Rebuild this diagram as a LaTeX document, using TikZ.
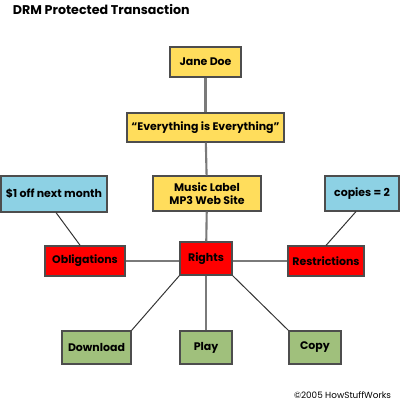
\documentclass[tikz,border=0pt]{standalone}
\usepackage{fontspec}
\setmainfont{Poppins}
\newcommand{\pxu}{0.025cm}
\definecolor{caja}{HTML}{FFDD5C}
\definecolor{celeste}{HTML}{8DD1E4}
\definecolor{rojo}{HTML}{FF0000}
\definecolor{verde}{HTML}{A0C07C}
\definecolor{borde}{HTML}{4D4D4D}
\definecolor{linea}{HTML}{7A7A7A}
\begin{document}
\begin{tikzpicture}[x=\pxu,y=-\pxu,
    box/.style={draw=borde,line width=0.8pt,inner sep=0pt,align=center,
                font=\fontsize{7.8}{9.5}\selectfont\bfseries},
    amarillo/.style={box,fill=caja},
    azul/.style={box,fill=celeste},
    roja/.style={box,fill=rojo},
    verdeb/.style={box,fill=verde},
    tronco/.style={linea,line width=1.5pt},
    rama/.style={black!80,line width=0.7pt}]
  \useasboundingbox (0,0) rectangle (400,403);

  % Titulo
  \node[anchor=west,font=\fontsize{9}{11}\selectfont\bfseries] (titulo) at (8,9.5) {DRM Protected Transaction};

  % Cajas
  \node[amarillo,minimum width=71*\pxu,minimum height=30*\pxu] (jane) at (205.5,62) {Jane Doe};
  \node[amarillo,minimum width=157*\pxu,minimum height=29*\pxu] (ever) at (205.5,127.5) {``Everything is Everything''};
  \node[amarillo,minimum width=108*\pxu,minimum height=35*\pxu] (music) at (207,193.5) {Music Label\\MP3 Web Site};
  \node[azul,minimum width=106*\pxu,minimum height=36*\pxu] (off) at (54,194) {\$1 off next month};
  \node[azul,minimum width=74*\pxu,minimum height=35*\pxu] (copies) at (362,193.5) {copies = 2};
  \node[roja,minimum width=80*\pxu,minimum height=30*\pxu] (oblig) at (85,261) {Obligations};
  \node[roja,minimum width=52*\pxu,minimum height=33*\pxu] (rights) at (206,258.5) {Rights};
  \node[roja,minimum width=76*\pxu,minimum height=30*\pxu] (restr) at (326,261) {Restrictions};
  \node[verdeb,minimum width=69*\pxu,minimum height=33*\pxu] (down) at (96.5,347.5) {Download};
  \node[verdeb,minimum width=52*\pxu,minimum height=33*\pxu] (play) at (206,347.5) {Play};
  \node[verdeb,minimum width=52*\pxu,minimum height=33*\pxu] (copy) at (315,347.5) {Copy};

  % Lineas
  \begin{scope}
    \draw[tronco] (jane) -- (ever);
    \draw[tronco] (ever) -- (music);
    \draw[tronco] (music) -- (rights);
    \draw[tronco] (oblig.east) -- (oblig.east -| rights.west);
    \draw[tronco] (restr.west) -- (restr.west -| rights.east);
    \draw[tronco] (rights) -- (play);
    \draw[rama] (rights.south west) -- (down.north east);
    \draw[rama] (rights.south east) -- (copy.north west);
    \draw[rama] ([xshift=0.05cm]off.south) -- ([xshift=-0.12cm]oblig.north);
    \draw[rama] ([xshift=-0.15cm]copies.south) -- (restr.north);
  \end{scope}

  \node[anchor=east,font=\fontsize{6.3}{8}\selectfont] (copyr) at (396,395) {©2005 HowStuffWorks};
\end{tikzpicture}
\end{document}
